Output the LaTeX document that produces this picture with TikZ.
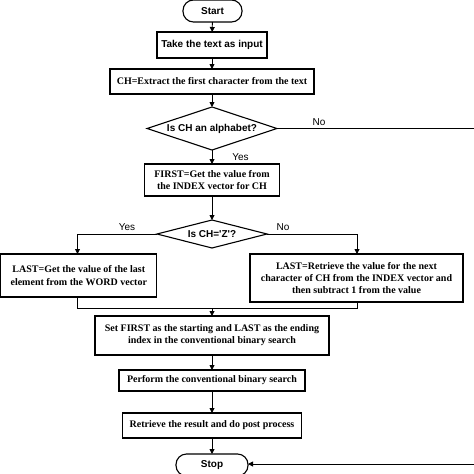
\documentclass[tikz,border=0pt]{standalone}
\usepackage{fontspec}
\setmainfont{Liberation Serif}
\newfontfamily\arialf{Liberation Sans}
\usetikzlibrary{arrows.meta}
\begin{document}
\begin{tikzpicture}[x=1pt,y=1pt,
  every node/.style={inner sep=0pt, outer sep=0pt},
  box/.style={draw, line width=1.1pt, rectangle, align=center, font=\fontsize{10}{12.2}\selectfont\bfseries},
  sbox/.style={draw, line width=1.1pt, rectangle, align=center, font=\fontsize{10}{12}\selectfont\arialf\bfseries},
  term/.style={draw, line width=1.1pt, rectangle, rounded corners=10.5pt, font=\fontsize{10}{12}\selectfont\arialf\bfseries},
  dec/.style={rectangle, font=\fontsize{10}{12}\selectfont\arialf\bfseries},
  decline/.style={line width=1.1pt, line join=miter},
  lbl/.style={font=\fontsize{10}{12}\selectfont\arialf},
  conn/.style={line width=0.9pt, -{Triangle[length=5pt,width=5pt]}},
  plain/.style={line width=0.9pt}]
\useasboundingbox (0,0) rectangle (474,-474);
\node[term, minimum width=59, minimum height=22] (start) at (212.5,-11) {Start};
\node[sbox, minimum width=110, minimum height=26] (take) at (212,-45) {Take the text as input};
\node[box, minimum width=204, minimum height=25] (ch) at (212,-81.5) {CH=Extract the first character from the text};
\node[dec, minimum width=130, minimum height=43] (d1) at (212,-128.5) {Is CH an alphabet?};
\draw[decline] (d1.north) -- (d1.east) -- (d1.south) -- (d1.west) -- cycle;
\node[box, minimum width=135, minimum height=32] (first) at (212,-180) {FIRST=Get the value from\\the INDEX vector for CH};
\node[dec, minimum width=110, minimum height=28] (d2) at (212,-234) {Is CH='Z'?};
\draw[decline] (d2.north) -- (d2.east) -- (d2.south) -- (d2.west) -- cycle;
\node[box, minimum width=156, minimum height=43] (lastl) at (78.8,-275.5) {LAST=Get the value of the last\\element from the WORD vector};
\node[box, minimum width=213, minimum height=48] (lastr) at (356.5,-278) {LAST=Retrieve the value for the next\\character of CH from the INDEX vector and\\then subtract 1 from the value};
\node[box, minimum width=234, minimum height=39] (set) at (212,-335.5) {Set FIRST as the starting and LAST as the ending\\index in the conventional binary search};
\node[box, minimum width=186, minimum height=21] (perf) at (212,-380.5) {Perform the conventional binary search};
\node[box, minimum width=179, minimum height=25] (ret) at (212,-425.5) {Retrieve the result and do post process};
\node[term, minimum width=72, minimum height=22] (stop) at (212,-465) {Stop};
\coordinate (m) at (212,-308);
\coordinate (r1) at (482,-128.5);
\coordinate (r2) at (482,-464);
\coordinate (ly) at (77.5,-234);
\coordinate (ry) at (357,-234);
\draw[conn] (start) -- (take);
\draw[conn] (take) -- (ch);
\draw[conn] (ch) -- (d1.north);
\draw[conn] (d1.south) -- (first);
\draw[conn] (first) -- (d2.north);
\draw[conn] (d2.west) -- (ly) -- (lastl.north -| ly);
\draw[conn] (d2.east) -- (ry) -- (lastr.north -| ry);
\draw[plain] (lastl.south -| ly) -- (m -| ly) -- (m -| ry) -- (lastr.south -| ry);
\draw[conn] (m) -- (set);
\draw[conn] (set) -- (perf);
\draw[conn] (perf) -- (ret);
\draw[conn] (ret) -- (stop);
\draw[conn] (d1.east) -- (r1) -- (r2) -- (stop.east |- r2);
\node[lbl] (no1) at (319,-122) {No};
\node[lbl] (yes1) at (240.5,-157.5) {Yes};
\node[lbl] (yes2) at (127,-227) {Yes};
\node[lbl] (no2) at (283,-227) {No};
\end{tikzpicture}
\end{document}
